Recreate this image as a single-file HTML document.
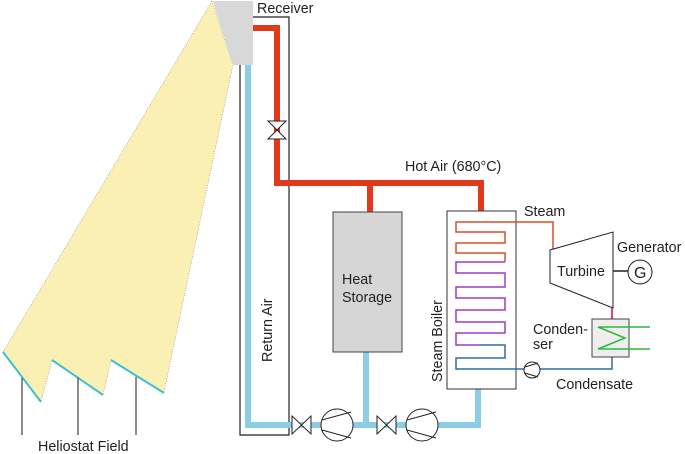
<!DOCTYPE html>
<html><head><meta charset="utf-8"><style>
html,body{margin:0;padding:0;background:#fff;}
svg{display:block;}
text{font-family:"Liberation Sans",sans-serif;font-size:14.3px;fill:#222;}
</style></head><body>
<svg width="685" height="454" viewBox="0 0 685 454" xmlns="http://www.w3.org/2000/svg">
<polygon points="212,1 233,65 164,392 111,360 103,395 52,360 41,402 3,352" fill="#faf0b4" stroke="#888" stroke-width="0.6" stroke-dasharray="1,1.5"/>
<g stroke="#3cc0d6" stroke-width="2">
<line x1="3" y1="352" x2="41" y2="402"/><line x1="52" y1="360" x2="103" y2="395"/><line x1="111" y1="360" x2="164" y2="393"/>
</g>
<g stroke="#666" stroke-width="1.5">
<line x1="22" y1="378" x2="22" y2="435"/><line x1="78" y1="377" x2="78" y2="435"/><line x1="136" y1="377" x2="136" y2="435"/>
</g>
<text x="38" y="451">Heliostat Field</text>
<polyline points="253,17 289,17 289,435 240,435 240,65" fill="none" stroke="#222" stroke-width="1.2"/>
<polygon points="213,1 253,1 253,65 233,65" fill="#d8d8d8"/>
<text x="257" y="13">Receiver</text>
<polyline points="248,65 248,425 478,425 478,389" fill="none" stroke="#8ccde6" stroke-width="6"/>
<line x1="366" y1="352" x2="366" y2="425" stroke="#8ccde6" stroke-width="6"/>
<polyline points="253,28 277,28 277,183 481,183 481,211" fill="none" stroke="#e03a1a" stroke-width="6"/>
<line x1="370" y1="183" x2="370" y2="212" stroke="#e03a1a" stroke-width="6"/>
<polygon points="268,121 286,121 268,139 286,139" fill="#fff" stroke="#222" stroke-width="1"/>
<text x="405" y="171">Hot Air (680°C)</text>
<text transform="translate(272,362) rotate(-90)">Return Air</text>
<rect x="333" y="212" width="69" height="140" fill="#d6d6d6" stroke="#444" stroke-width="1"/>
<text x="342" y="284">Heat</text>
<text x="342" y="302">Storage</text>
<g fill="#fff" stroke="#222" stroke-width="1">
<polygon points="292,416 292,434 311,416 311,434"/>
<circle cx="337" cy="425" r="16"/>
<polygon points="377,416 377,434 396,416 396,434"/>
<circle cx="422" cy="425" r="16"/>
</g>
<g stroke="#222" stroke-width="1">
<line x1="322" y1="420" x2="351" y2="412"/><line x1="322" y1="430" x2="351" y2="438"/>
<line x1="407" y1="420" x2="436" y2="412"/><line x1="407" y1="430" x2="436" y2="438"/>
</g>
<rect x="447" y="211" width="69" height="178" fill="#fff" stroke="#333" stroke-width="1"/>
<text transform="translate(442,382) rotate(-90)">Steam Boiler</text>
<polyline points="553,252 553,222 456,222 456,232 505,232 505,243 456,243 456,253 505,253 505,262" fill="none" stroke="#d2502a" stroke-width="1.5"/>
<polyline points="505,262 456,262 456,273 505,273 505,287 456,287 456,298 505,298 505,310 456,310 456,322 505,322 505,333 456,333 456,345 480,345" fill="none" stroke="#a03cc0" stroke-width="1.5"/>
<polyline points="480,345 505,345 505,358 456,358 456,369 524,369" fill="none" stroke="#2a6ca8" stroke-width="1.5"/>
<polyline points="540,369 612,369 612,357" fill="none" stroke="#2a6ca8" stroke-width="1.5"/>
<circle cx="532" cy="370" r="8" fill="#fff" stroke="#222"/>
<line x1="525" y1="367" x2="538" y2="363" stroke="#222"/><line x1="525" y1="373" x2="538" y2="377" stroke="#222"/>
<text x="524" y="216">Steam</text>
<polygon points="550,250 613,232 613,308 550,283" fill="#fff" stroke="#222"/>
<text x="557" y="276">Turbine</text>
<line x1="613" y1="271" x2="628" y2="271" stroke="#222" stroke-width="1.5"/>
<circle cx="640" cy="272" r="12" fill="#fff" stroke="#222"/>
<text x="634" y="278" style="font-size:16px">G</text>
<text x="617" y="252">Generator</text>
<line x1="612" y1="308" x2="612" y2="319" stroke="#e0409a" stroke-width="2"/>
<rect x="592" y="319" width="37" height="38" fill="#eee" stroke="#444"/>
<polyline points="650,327 598,327 625,338 598,349 650,349" fill="none" stroke="#2db83a" stroke-width="1.5"/>
<text x="533" y="334">Conden-</text>
<text x="533" y="349">ser</text>
<text x="556" y="389">Condensate</text>
</svg>
</body></html>
